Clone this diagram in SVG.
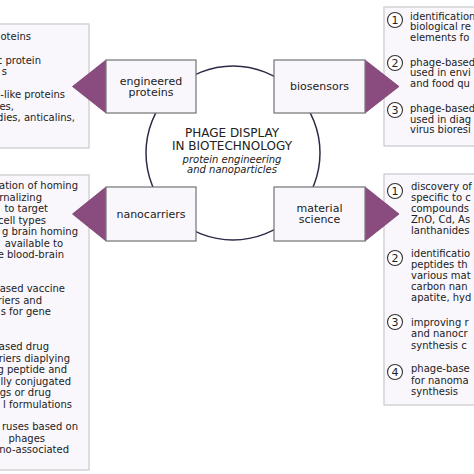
<svg xmlns="http://www.w3.org/2000/svg" width="474" height="474" viewBox="0 0 474 474">
<style>
.list{fill:#f9f7fc;stroke:#c9c9cc;stroke-width:1.2}
.node{fill:#f9f7fc;stroke:#7d7d80;stroke-width:1.3}
.tri{fill:#8a4b7e;stroke:#7a3f6f;stroke-width:0.8}
.t{font-family:'DejaVu Sans',sans-serif;font-size:10px;fill:#222}
.e{text-anchor:end}
.lbl{font-family:'DejaVu Sans',sans-serif;font-size:11px;fill:#222;text-anchor:middle}
.num{font-family:'DejaVu Sans',sans-serif;font-size:11px;fill:#222;text-anchor:middle}
.nc{fill:#fff;stroke:#333;stroke-width:1.1}
</style>
<rect width="474" height="474" fill="#fff"/>

<g id="hub">
<circle cx="233" cy="153" r="87" fill="none" stroke="#2b2b48" stroke-width="1.5"/>
<text x="232" y="137" font-family="DejaVu Sans,sans-serif" font-size="12px" fill="#222" text-anchor="middle">PHAGE DISPLAY</text>
<text x="232" y="149.5" font-family="DejaVu Sans,sans-serif" font-size="12px" fill="#222" text-anchor="middle">IN BIOTECHNOLOGY</text>
<text x="232" y="163" font-family="DejaVu Sans,sans-serif" font-size="10px" font-style="italic" fill="#222" text-anchor="middle">protein engineering</text>
<text x="232" y="172.5" font-family="DejaVu Sans,sans-serif" font-size="10px" font-style="italic" fill="#222" text-anchor="middle">and nanoparticles</text>
</g>

<g id="list-proteins">
<rect class="list" x="-10" y="24" width="99" height="124"/>
<text class="t e" x="31" y="40">oteins</text>
<text class="t e" x="41" y="64">c protein</text>
<text class="t e" x="7" y="75">s</text>
<text class="t e" x="65" y="98">-like proteins</text>
<text class="t e" x="14" y="109.5">es,</text>
<text class="t e" x="75" y="120.5">dies, anticalins,</text>
</g>

<g id="list-nanocarriers">
<rect class="list" x="-10" y="175" width="99" height="295"/>
<text class="t e" x="78" y="189">ation of homing</text>
<text class="t e" x="42" y="200.5">rnalizing</text>
<text class="t e" x="48" y="212">to target</text>
<text class="t e" x="46" y="223.5">cell types</text>
<text class="t e" x="78" y="235">g brain homing</text>
<text class="t e" x="63" y="246.5">available to</text>
<text class="t e" x="64" y="258">e blood-brain</text>
<text class="t e" x="65" y="292">ased vaccine</text>
<text class="t e" x="42" y="303.5">riers and</text>
<text class="t e" x="51" y="315">s for gene</text>
<text class="t e" x="49" y="350">ased drug</text>
<text class="t e" x="70" y="361.5">riers diaplying</text>
<text class="t e" x="67" y="373">g peptide and</text>
<text class="t e" x="71" y="384.5">lly conjugated</text>
<text class="t e" x="51" y="396">gs or drug</text>
<text class="t e" x="72" y="407.5">l formulations</text>
<text class="t e" x="78" y="430">ruses based on</text>
<text class="t e" x="45" y="441.5">phages</text>
<text class="t e" x="69" y="453">no-associated</text>
</g>

<g id="list-biosensors">
<rect class="list" x="384" y="7" width="100" height="139"/>
<circle class="nc" cx="395" cy="20" r="7.5"/><text class="num" x="395" y="24">1</text>
<text class="t" x="410" y="19.5">identification</text>
<text class="t" x="410" y="30">biological re</text>
<text class="t" x="410" y="41">elements fo</text>
<circle class="nc" cx="395" cy="63" r="7.5"/><text class="num" x="395" y="67">2</text>
<text class="t" x="410" y="65.5">phage-based</text>
<text class="t" x="410" y="76">used in envi</text>
<text class="t" x="410" y="87">and food qu</text>
<circle class="nc" cx="395" cy="110" r="7.5"/><text class="num" x="395" y="114">3</text>
<text class="t" x="410" y="112">phage-based</text>
<text class="t" x="410" y="122.5">used in diag</text>
<text class="t" x="410" y="133">virus bioresi</text>
</g>

<g id="list-material">
<rect class="list" x="384" y="174" width="100" height="231"/>
<circle class="nc" cx="395" cy="191" r="7.5"/><text class="num" x="395" y="195">1</text>
<text class="t" x="411" y="189.5">discovery of</text>
<text class="t" x="411" y="200.5">specific to c</text>
<text class="t" x="411" y="211.5">compounds</text>
<text class="t" x="411" y="222.5">ZnO, Cd, As</text>
<text class="t" x="411" y="233.5">lanthanides</text>
<circle class="nc" cx="395" cy="258" r="7.5"/><text class="num" x="395" y="262">2</text>
<text class="t" x="411" y="256.5">identificatio</text>
<text class="t" x="411" y="267.5">peptides th</text>
<text class="t" x="411" y="278.5">various mat</text>
<text class="t" x="411" y="289.5">carbon nan</text>
<text class="t" x="411" y="300.5">apatite, hyd</text>
<circle class="nc" cx="395" cy="322" r="7.5"/><text class="num" x="395" y="326">3</text>
<text class="t" x="411" y="326">improving r</text>
<text class="t" x="411" y="337">and nanocr</text>
<text class="t" x="411" y="348.5">synthesis c</text>
<circle class="nc" cx="395" cy="372" r="7.5"/><text class="num" x="395" y="376">4</text>
<text class="t" x="411" y="372">phage-base</text>
<text class="t" x="411" y="383.5">for nanoma</text>
<text class="t" x="411" y="394.5">synthesis</text>
</g>

<g id="connectors">
<polygon class="tri" points="106,60 72.5,86.5 106,113"/>
<polygon class="tri" points="365,60 399,86.5 365,113"/>
<polygon class="tri" points="106,187 72.5,214 106,241"/>
<polygon class="tri" points="365,187 399,214 365,241"/>
</g>

<g id="node-engineered-proteins">
<rect class="node" x="106" y="60" width="90" height="53"/>
<text class="lbl" x="151" y="84.5">engineered</text>
<text class="lbl" x="151" y="95.5">proteins</text>
</g>
<g id="node-biosensors">
<rect class="node" x="274" y="60" width="91" height="53"/>
<text class="lbl" x="319.5" y="90">biosensors</text>
</g>
<g id="node-nanocarriers">
<rect class="node" x="106" y="187" width="90" height="54"/>
<text class="lbl" x="151" y="217.5">nanocarriers</text>
</g>
<g id="node-material-science">
<rect class="node" x="274" y="187" width="91" height="54"/>
<text class="lbl" x="319.5" y="211.5">material</text>
<text class="lbl" x="319.5" y="222.5">science</text>
</g>
</svg>
